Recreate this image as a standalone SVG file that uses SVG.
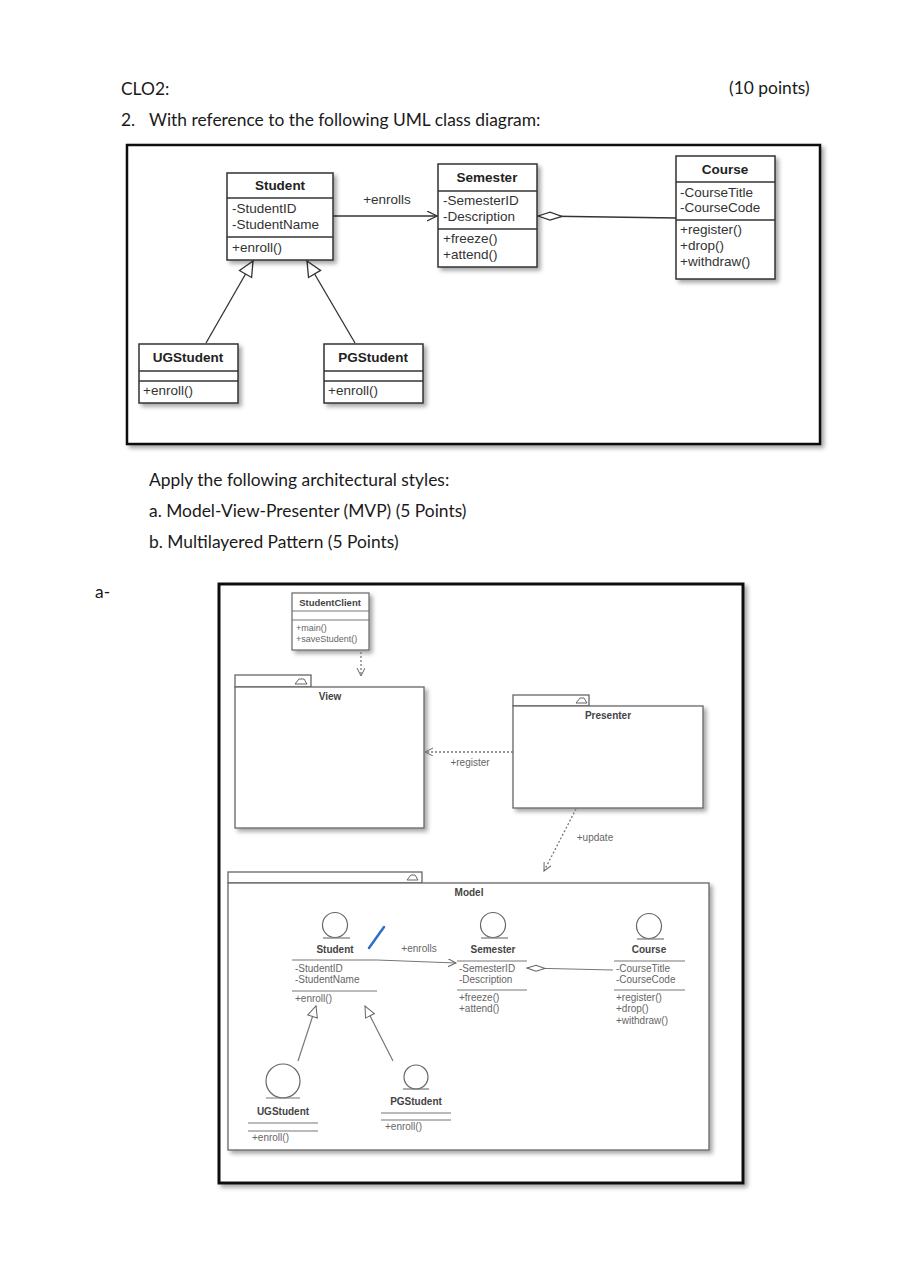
<svg xmlns="http://www.w3.org/2000/svg" width="907" height="1281" viewBox="0 0 907 1281">
<defs>
<filter id="sh" x="-10%" y="-10%" width="130%" height="130%">
<feDropShadow dx="3" dy="3" stdDeviation="2" flood-color="#000" flood-opacity="0.35"/>
</filter>
<marker id="gen" markerUnits="userSpaceOnUse" markerWidth="18" markerHeight="18" refX="16" refY="8" orient="auto" viewBox="0 0 18 18">
<path d="M1,1 L16,8 L1,15 z" fill="#fff" stroke="#333" stroke-width="1.3"/>
</marker>
<marker id="gens" markerUnits="userSpaceOnUse" markerWidth="14" markerHeight="14" refX="12" refY="6" orient="auto" viewBox="0 0 14 14">
<path d="M1,1 L12,6 L1,11 z" fill="#fff" stroke="#666" stroke-width="1"/>
</marker>
<marker id="open" markerUnits="userSpaceOnUse" markerWidth="12" markerHeight="12" refX="10" refY="5" orient="auto" viewBox="0 0 12 12">
<path d="M0,0 L10,5 L0,10" fill="none" stroke="#333" stroke-width="1.3"/>
</marker>
<marker id="opens" markerUnits="userSpaceOnUse" markerWidth="10" markerHeight="10" refX="8" refY="4" orient="auto" viewBox="0 0 10 10">
<path d="M0,0 L8,4 L0,8" fill="none" stroke="#666" stroke-width="1"/>
</marker>
<marker id="dia" markerUnits="userSpaceOnUse" markerWidth="28" markerHeight="12" refX="1" refY="5" orient="auto" viewBox="0 0 28 12">
<path d="M1,5 L13,1 L25,5 L13,9 z" fill="#fff" stroke="#333" stroke-width="1.3"/>
</marker>
<marker id="dias" markerUnits="userSpaceOnUse" markerWidth="24" markerHeight="10" refX="1" refY="4" orient="auto" viewBox="0 0 24 10">
<path d="M1,4 L10,1 L19,4 L10,7 z" fill="#fff" stroke="#666" stroke-width="1"/>
</marker>
</defs>
<style>
.doc{font-family:"Lato","Open Sans",sans-serif;font-size:17.4px;fill:#1a1a1a}
.box{fill:#fff;stroke:#333;stroke-width:1.5}
.t{font-family:"Liberation Sans",Arial,sans-serif;font-size:13.5px;fill:#333}
.tb{font-family:"Liberation Sans",Arial,sans-serif;font-size:13.5px;font-weight:bold;fill:#222;text-anchor:middle}
.s{font-family:"Liberation Sans",Arial,sans-serif;font-size:10px;fill:#666}
.sb{font-family:"Liberation Sans",Arial,sans-serif;font-size:10px;font-weight:bold;fill:#444;text-anchor:middle}
.pk{fill:#fff;stroke:#666;stroke-width:1.3}
.ln{stroke:#333;stroke-width:1.3;fill:none}
.lns{stroke:#777;stroke-width:1.2;fill:none}
.dot{stroke:#777;stroke-width:1.3;fill:none;stroke-dasharray:2 2}
.ent{fill:#fff;stroke:#666;stroke-width:1.2}
</style>

<g id="texts">
<text class="doc" x="121" y="95">CLO2:</text>
<text class="doc" x="729" y="94">(10 points)</text>
<text class="doc" x="121" y="126">2.</text>
<text class="doc" x="149" y="126">With reference to the following UML class diagram:</text>
<text class="doc" x="149" y="486">Apply the following architectural styles:</text>
<text class="doc" x="149" y="517">a. Model-View-Presenter (MVP) (5 Points)</text>
<text class="doc" x="149" y="548">b. Multilayered Pattern (5 Points)</text>
<text class="doc" x="95" y="598">a-</text>
</g>

<g id="frame1">
<rect x="127" y="145" width="693" height="299" fill="#fff" stroke="#111" stroke-width="2.5" filter="url(#sh)"/>
</g>

<g id="connectors1">
<line class="ln" x1="333" y1="216" x2="437" y2="216" marker-end="url(#open)"/>
<text class="t" x="387" y="204" text-anchor="middle">+enrolls</text>
<line class="ln" x1="538" y1="216" x2="676" y2="218" marker-start="url(#dia)"/>
<line class="ln" x1="206" y1="343" x2="253" y2="261" marker-end="url(#gen)"/>
<line class="ln" x1="355" y1="343" x2="307" y2="261" marker-end="url(#gen)"/>
</g>

<g id="Student">
<rect class="box" x="227" y="173" width="106" height="87" filter="url(#sh)"/>
<line class="ln" x1="227" y1="198" x2="333" y2="198"/>
<line class="ln" x1="227" y1="237" x2="333" y2="237"/>
<text class="tb" x="280" y="190">Student</text>
<text class="t" x="232" y="213">-StudentID</text>
<text class="t" x="232" y="229">-StudentName</text>
<text class="t" x="232" y="252">+enroll()</text>
</g>

<g id="Semester">
<rect class="box" x="438" y="164" width="99" height="103" filter="url(#sh)"/>
<line class="ln" x1="438" y1="191" x2="537" y2="191"/>
<line class="ln" x1="438" y1="229" x2="537" y2="229"/>
<text class="tb" x="487" y="182">Semester</text>
<text class="t" x="443" y="205">-SemesterID</text>
<text class="t" x="443" y="221">-Description</text>
<text class="t" x="443" y="243">+freeze()</text>
<text class="t" x="443" y="259">+attend()</text>
</g>

<g id="Course">
<rect class="box" x="676" y="156" width="99" height="123" filter="url(#sh)"/>
<line class="ln" x1="676" y1="182" x2="775" y2="182"/>
<line class="ln" x1="676" y1="220" x2="775" y2="220"/>
<text class="tb" x="725" y="174">Course</text>
<text class="t" x="680" y="197">-CourseTitle</text>
<text class="t" x="680" y="212">-CourseCode</text>
<text class="t" x="680" y="234">+register()</text>
<text class="t" x="680" y="250">+drop()</text>
<text class="t" x="680" y="266">+withdraw()</text>
</g>

<g id="UGStudent">
<rect class="box" x="139" y="344" width="99" height="59" filter="url(#sh)"/>
<line class="ln" x1="139" y1="371" x2="238" y2="371"/>
<line class="ln" x1="139" y1="381" x2="238" y2="381"/>
<text class="tb" x="188" y="362">UGStudent</text>
<text class="t" x="143" y="395">+enroll()</text>
</g>

<g id="PGStudent">
<rect class="box" x="324" y="344" width="99" height="59" filter="url(#sh)"/>
<line class="ln" x1="324" y1="371" x2="423" y2="371"/>
<line class="ln" x1="324" y1="381" x2="423" y2="381"/>
<text class="tb" x="373" y="362">PGStudent</text>
<text class="t" x="328" y="395">+enroll()</text>
</g>

<g id="frame2">
<rect x="219" y="584" width="524" height="599" fill="#fff" stroke="#111" stroke-width="3" filter="url(#sh)"/>
</g>

<g id="StudentClient">
<rect x="292" y="593" width="77" height="57" fill="#fff" stroke="#666" stroke-width="1.2" filter="url(#sh)"/>
<line class="lns" x1="292" y1="611" x2="369" y2="611"/>
<line class="lns" x1="292" y1="620" x2="369" y2="620"/>
<text class="sb" x="330" y="606" style="font-size:9.5px">StudentClient</text>
<text class="s" x="296" y="631" style="font-size:9px">+main()</text>
<text class="s" x="296" y="642" style="font-size:9px">+saveStudent()</text>
</g>

<g id="View">
<rect class="pk" x="235" y="675" width="76" height="12"/>
<path d="M295,684 L299,679 L304,679 L307,684 z" fill="none" stroke="#666" stroke-width="1"/>
<rect class="pk" x="235" y="687" width="189" height="141" filter="url(#sh)"/>
<text class="sb" x="330" y="700">View</text>
</g>

<g id="Presenter">
<rect class="pk" x="513" y="695" width="76" height="11"/>
<path d="M576,703 L580,698 L584,698 L587,703 z" fill="none" stroke="#666" stroke-width="1"/>
<rect class="pk" x="513" y="706" width="190" height="102" filter="url(#sh)"/>
<text class="sb" x="608" y="719">Presenter</text>
</g>

<g id="Model">
<rect class="pk" x="228" y="872" width="194" height="11"/>
<path d="M407,880 L411,875 L415,875 L418,880 z" fill="none" stroke="#666" stroke-width="1"/>
<rect class="pk" x="228" y="883" width="481" height="267" filter="url(#sh)"/>
<text class="sb" x="469" y="896">Model</text>
</g>

<g id="connectors2">
<line class="dot" x1="361" y1="652" x2="361" y2="676" marker-end="url(#opens)"/>
<line class="dot" x1="513" y1="752" x2="425" y2="752" marker-end="url(#opens)"/>
<text class="s" x="470" y="766" text-anchor="middle">+register</text>
<line class="dot" x1="576" y1="809" x2="544" y2="871" marker-end="url(#opens)"/>
<text class="s" x="595" y="841" text-anchor="middle">+update</text>
<line class="lns" x1="377" y1="960" x2="456" y2="963" marker-end="url(#opens)"/>
<text class="s" x="419" y="952" text-anchor="middle">+enrolls</text>
<line class="lns" x1="527" y1="968" x2="613" y2="970" marker-start="url(#dias)"/>
<line class="lns" x1="298" y1="1061" x2="316" y2="1006" marker-end="url(#gens)"/>
<line class="lns" x1="393" y1="1061" x2="365" y2="1006" marker-end="url(#gens)"/>
<line x1="369" y1="948" x2="384" y2="927" stroke="#2f6fc4" stroke-width="2.5" stroke-linecap="round"/>
</g>

<g id="MStudent">
<circle class="ent" cx="335" cy="925" r="12.5"/>
<line class="lns" x1="323" y1="938" x2="350" y2="938"/>
<text class="sb" x="335" y="953">Student</text>
<line class="lns" x1="292" y1="960" x2="377" y2="960"/>
<text class="s" x="295" y="972">-StudentID</text>
<text class="s" x="295" y="983">-StudentName</text>
<line class="lns" x1="292" y1="991" x2="377" y2="991"/>
<text class="s" x="295" y="1002">+enroll()</text>
</g>

<g id="MSemester">
<circle class="ent" cx="493" cy="925" r="12.5"/>
<line class="lns" x1="481" y1="938" x2="508" y2="938"/>
<text class="sb" x="493" y="953">Semester</text>
<line class="lns" x1="457" y1="961" x2="527" y2="961"/>
<text class="s" x="459" y="972">-SemesterID</text>
<text class="s" x="459" y="983">-Description</text>
<line class="lns" x1="457" y1="990" x2="527" y2="990"/>
<text class="s" x="459" y="1001">+freeze()</text>
<text class="s" x="459" y="1012">+attend()</text>
</g>

<g id="MCourse">
<circle class="ent" cx="649" cy="926" r="12.5"/>
<line class="lns" x1="637" y1="939" x2="664" y2="939"/>
<text class="sb" x="649" y="953">Course</text>
<line class="lns" x1="614" y1="961" x2="685" y2="961"/>
<text class="s" x="616" y="972">-CourseTitle</text>
<text class="s" x="616" y="983">-CourseCode</text>
<line class="lns" x1="614" y1="990" x2="685" y2="990"/>
<text class="s" x="616" y="1001">+register()</text>
<text class="s" x="616" y="1012">+drop()</text>
<text class="s" x="616" y="1024">+withdraw()</text>
</g>

<g id="MUGStudent">
<circle class="ent" cx="283" cy="1081" r="17"/>
<line class="lns" x1="266" y1="1098" x2="300" y2="1098"/>
<text class="sb" x="283" y="1115">UGStudent</text>
<line class="lns" x1="248" y1="1123" x2="318" y2="1123"/>
<line class="lns" x1="248" y1="1131" x2="318" y2="1131"/>
<text class="s" x="252" y="1141">+enroll()</text>
</g>

<g id="MPGStudent">
<circle class="ent" cx="416" cy="1077" r="12"/>
<line class="lns" x1="403" y1="1089" x2="429" y2="1089"/>
<text class="sb" x="416" y="1105">PGStudent</text>
<line class="lns" x1="381" y1="1113" x2="451" y2="1113"/>
<line class="lns" x1="381" y1="1120" x2="451" y2="1120"/>
<text class="s" x="385" y="1130">+enroll()</text>
</g>
</svg>
